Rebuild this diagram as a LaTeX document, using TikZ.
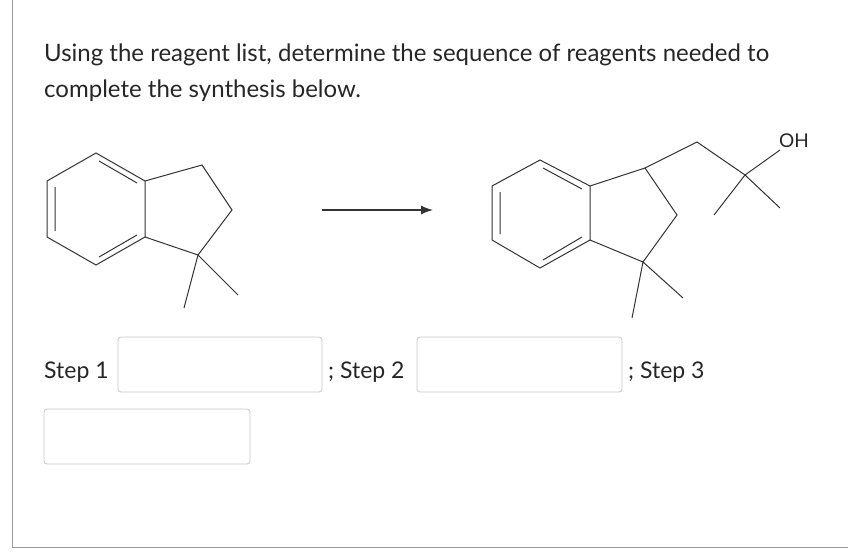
\documentclass[tikz,border=0pt]{standalone}
\usepackage{fontspec}
\setmainfont{Lato}
\usetikzlibrary{arrows.meta}
\begin{document}
\begin{tikzpicture}[x=1pt,y=-1pt,
  bond/.style={line width=1pt,black!80},
  inbox/.style={draw=black!22,rounded corners=3pt,line width=0.8pt},
  txt/.style={anchor=base west,inner sep=0pt,text=black!85}]
\useasboundingbox (0,0) rectangle (848,559);
\draw[black!40,line width=1pt] (12,0) -- (12,547) -- (848,547);
\node[txt,font=\fontsize{24}{28}\selectfont] (t1) at (44,62) {Using the reagent list, determine the sequence of reagents needed to};
\node[txt,font=\fontsize{24}{28}\selectfont] (t2) at (44,98) {complete the synthesis below.};
% left molecule
\foreach \n/\p in {a1/{96,153},a2/{145,181},a3/{145,237},a4/{96,265},a5/{47,237},a6/{47,181},a7/{202,165},a8/{232,210},a9/{198,255},a10/{184,308},a11/{238,295}}
  \coordinate (\n) at (\p);
\draw[bond] (a1)--(a2)--(a3)--(a4)--(a5)--(a6)--cycle;
\draw[bond] (a2)--(a7)--(a8)--(a9)--(a3);
\draw[bond] (a9)--(a10) (a9)--(a11);
\draw[bond] (99,161)--(137,183) (55,187)--(55,231) (99,257)--(137,235);
% arrow
\coordinate (r1) at (322,210); \coordinate (r2) at (433,210);
\draw[line width=1.3pt,black!80,-{Latex[length=12pt,width=9pt]}] (r1)--(r2);
% right molecule
\foreach \n/\p in {b1/{540,160},b2/{590,186},b3/{590,240},b4/{540,268},b5/{492,240},b6/{492,186},b7/{645,168},b8/{677,215},b9/{643,262},b10/{632,318},b11/{683,298},b12/{697,142},b13/{745,175},b14/{780,150},b15/{714,215},b16/{780,208}}
  \coordinate (\n) at (\p);
\draw[bond] (b1)--(b2)--(b3)--(b4)--(b5)--(b6)--cycle;
\draw[bond] (b2)--(b7)--(b8)--(b9)--(b3);
\draw[bond] (b9)--(b10) (b9)--(b11) (b7)--(b12)--(b13)--(b14) (b13)--(b15) (b13)--(b16);
\draw[bond] (543,168)--(582,189) (500,192)--(500,234) (543,260)--(582,237);
\node[anchor=west,inner sep=1pt,font=\fontsize{19}{22}\selectfont,text=black!85] (oh) at (778,141) {OH};
% steps
\node[txt,font=\fontsize{23}{27}\selectfont] (s1) at (44,378) {Step 1};
\draw[inbox] (118,337) rectangle (322,392);
\node[txt,font=\fontsize{23}{27}\selectfont] (s2) at (328,378) {; Step 2};
\draw[inbox] (417,337) rectangle (622,392);
\node[txt,font=\fontsize{23}{27}\selectfont] (s3) at (628,378) {; Step 3};
\draw[inbox] (44,409) rectangle (250,464);
\end{tikzpicture}
\end{document}
